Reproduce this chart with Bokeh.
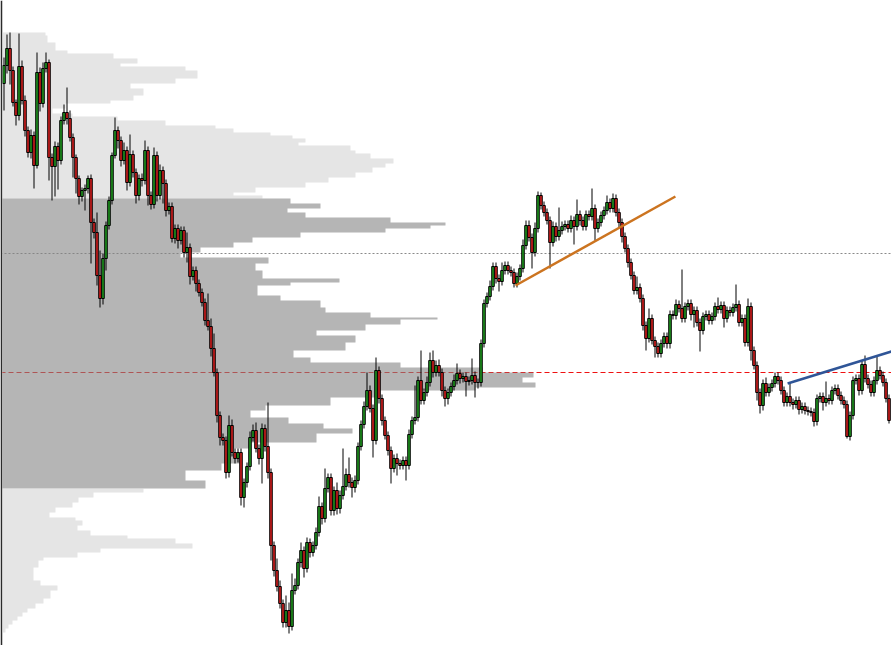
from bokeh.plotting import figure
from bokeh.models import Range1d
from bokeh.embed import file_html
from bokeh.resources import INLINE

# Price levels on a 0..645 scale (value = 645 - row)
BASE = 645

first_open_row = 83
close_row = [
    65, 48, 70, 102, 115, 66, 100, 130, 152, 135,
    165, 72, 103, 68, 62, 157, 166, 146, 160, 120,
    112, 118, 137, 157, 178, 196, 190, 188, 178, 222,
    232, 275, 298, 258, 225, 200, 155, 130, 140, 160,
    150, 182, 154, 172, 195, 178, 180, 150, 195, 204,
    155, 195, 170, 183, 210, 206, 238, 228, 240, 230,
    252, 247, 276, 270, 283, 292, 302, 320, 326, 348,
    372, 415, 437, 440, 472, 425, 452, 458, 452, 497,
    482, 466, 437, 430, 448, 458, 428, 446, 472, 545,
    570, 586, 603, 622, 610, 626, 590, 585, 562, 550,
    568, 542, 552, 545, 532, 506, 518, 488, 477, 510,
    490, 508, 495, 486, 474, 482, 487, 480, 446, 424,
    406, 390, 408, 440, 370, 398, 420, 435, 450, 468,
    458, 463, 465, 460, 465, 434, 420, 417, 380, 400,
    392, 382, 360, 372, 365, 372, 390, 398, 392, 386,
    380, 373, 378, 376, 381, 380, 375, 382, 382, 343,
    303, 296, 286, 266, 278, 281, 270, 265, 270, 272,
    283, 276, 268, 245, 225, 237, 252, 228, 195, 205,
    212, 220, 242, 226, 236, 230, 226, 224, 228, 220,
    226, 214, 220, 226, 214, 216, 208, 228, 222, 215,
    210, 202, 208, 198, 212, 222, 236, 248, 262, 275,
    290, 287, 298, 325, 338, 318, 340, 346, 353, 343,
    336, 343, 314, 315, 304, 308, 318, 306, 303, 314,
    310, 322, 330, 316, 314, 320, 316, 306, 309, 305,
    318, 310, 312, 307, 304, 322, 318, 342, 306, 350,
    365, 392, 405, 383, 392, 387, 383, 376, 380, 390,
    402, 396, 402, 404, 400, 409, 406, 410, 411, 412,
    421, 398, 396, 402, 398, 400, 390, 388, 395, 400,
    404, 436, 415, 380, 378, 390, 364, 378, 384, 392,
    380, 370, 375, 382, 398, 420,
]
wick_up = [
    8, 14, 16, 4, 3, 33, 6, 5, 4, 6,
    4, 20, 5, 6, 10, 3, 4, 5, 4, 4,
    8, 25, 8, 4, 3, 3, 3, 4, 3, 4,
    4, 20, 25, 5, 4, 4, 3, 13, 4, 4,
    8, 4, 20, 4, 4, 4, 5, 10, 4, 4,
    8, 4, 6, 4, 4, 4, 4, 4, 4, 4,
    4, 15, 4, 4, 4, 4, 4, 4, 27, 8,
    15, 4, 4, 4, 4, 10, 6, 4, 4, 4,
    4, 4, 6, 6, 8, 4, 5, 4, 44, 4,
    4, 12, 6, 4, 15, 8, 17, 7, 4, 8,
    4, 5, 4, 4, 5, 10, 4, 20, 4, 4,
    4, 8, 5, 38, 6, 17, 5, 5, 4, 4,
    5, 18, 5, 4, 13, 4, 4, 4, 4, 4,
    4, 5, 4, 4, 4, 5, 4, 32, 4, 30,
    4, 6, 8, 10, 5, 6, 4, 4, 4, 4,
    6, 10, 4, 4, 4, 4, 17, 4, 4, 4,
    4, 4, 6, 4, 4, 4, 8, 4, 4, 4,
    4, 4, 4, 6, 5, 5, 4, 6, 4, 3,
    4, 4, 4, 5, 4, 23, 5, 4, 4, 5,
    4, 15, 4, 4, 4, 4, 20, 4, 4, 4,
    4, 7, 4, 5, 4, 4, 4, 4, 4, 4,
    4, 11, 4, 4, 4, 10, 4, 4, 4, 4,
    4, 4, 4, 4, 5, 4, 39, 4, 4, 4,
    4, 4, 4, 4, 4, 4, 4, 4, 9, 4,
    4, 4, 4, 4, 20, 4, 4, 4, 8, 4,
    4, 4, 4, 4, 6, 4, 4, 4, 4, 4,
    4, 4, 14, 4, 4, 4, 4, 4, 4, 4,
    4, 4, 4, 4, 17, 4, 4, 4, 4, 4,
    4, 4, 4, 4, 4, 4, 4, 9, 4, 4,
    4, 15, 4, 4, 4, 4,
]
wick_dn = [
    27, 8, 14, 4, 10, 5, 4, 6, 5, 6,
    23, 3, 8, 4, 4, 23, 34, 30, 29, 4,
    4, 6, 4, 20, 15, 8, 5, 20, 5, 41,
    6, 10, 9, 6, 12, 4, 4, 3, 8, 6,
    4, 8, 4, 5, 8, 5, 6, 4, 10, 5,
    4, 6, 4, 20, 6, 4, 4, 5, 8, 4,
    5, 10, 8, 4, 8, 4, 4, 5, 4, 8,
    4, 7, 8, 5, 6, 5, 4, 5, 4, 8,
    10, 5, 4, 4, 4, 6, 25, 5, 6, 15,
    6, 5, 5, 5, 5, 7, 4, 4, 4, 5,
    9, 4, 5, 4, 4, 4, 6, 4, 4, 5,
    5, 6, 5, 4, 4, 5, 10, 5, 4, 4,
    4, 4, 4, 17, 4, 5, 5, 4, 5, 15,
    4, 12, 4, 4, 15, 4, 4, 4, 4, 4,
    4, 4, 4, 5, 4, 4, 6, 8, 6, 4,
    4, 4, 5, 4, 15, 4, 4, 15, 6, 4,
    4, 4, 4, 4, 5, 10, 4, 4, 4, 4,
    4, 4, 4, 4, 4, 4, 16, 4, 4, 4,
    4, 4, 26, 4, 5, 4, 4, 4, 4, 4,
    18, 4, 5, 4, 4, 4, 4, 12, 4, 4,
    4, 4, 4, 4, 4, 5, 6, 4, 5, 4,
    4, 4, 4, 5, 12, 4, 4, 11, 4, 4,
    4, 5, 5, 4, 4, 4, 4, 4, 4, 6,
    13, 4, 21, 4, 4, 4, 4, 4, 4, 4,
    9, 4, 4, 4, 4, 4, 4, 4, 4, 10,
    4, 8, 8, 5, 4, 4, 4, 4, 4, 4,
    4, 4, 4, 5, 4, 5, 4, 4, 4, 4,
    5, 4, 4, 8, 4, 4, 4, 4, 4, 4,
    4, 2, 4, 4, 4, 5, 4, 4, 4, 4,
    4, 4, 4, 4, 4, 3,
]

# Volume profile: row edges (same level scale) and volume per row
vp_edges_row = [
    32, 35, 42, 50, 53, 58, 63, 66, 70, 78, 83, 88, 95, 100, 103, 108, 113, 116,
    120, 125, 128, 132, 135, 138, 142, 145, 150, 153, 158, 163, 167, 172, 177,
    182, 187, 192, 195, 198, 203, 208, 212, 217, 222, 225, 228, 232, 237, 242,
    247, 252, 257, 263, 270, 278, 282, 285, 295, 300, 307, 312, 317, 319, 324,
    330, 335, 342, 350, 357, 362, 367, 372, 377, 382, 387, 390, 397, 405, 410,
    417, 423, 428, 433, 442, 448, 453, 463, 470, 480, 488, 492, 497, 502, 507,
    512, 517, 520, 525, 530, 535, 538, 543, 548, 552, 557, 560, 567, 580, 585,
    590, 598, 603, 608, 612, 616, 620, 624, 628, 632,
]
vp_volume = [
    45, 47, 55, 67, 113, 137, 120, 185, 197, 175,
    130, 143, 133, 110, 65, 52, 72, 117, 165, 215,
    233, 270, 292, 305, 298, 350, 355, 370, 393, 385,
    372, 355, 328, 305, 255, 233, 262,
    290, 320, 287, 305, 390, 445, 430, 385, 300, 252,
    233, 200, 180, 268, 255, 262, 339, 290, 257, 280,
    320, 325, 370, 437, 400, 365, 316, 355, 345, 293,
    310, 400, 482, 533, 522, 535, 475, 375, 330, 265,
    250, 288, 323, 352, 316, 250, 225, 240, 221, 185,
    205,
    143, 93, 78, 72, 55, 49, 75, 82, 77, 90,
    127, 175, 192, 100, 77, 43, 38, 33, 40, 57,
    50, 43, 35, 27, 22, 17, 12, 8, 5,
]
value_area_rows = [198, 488]
poc_row = 372
ref_row = 253
orange_idx = [170.5, 223.8]
orange_row = [285, 196]
blue_idx = [261.2, 295.8]
blue_row = [383, 351]

# ---- derived prices ----
n = len(close_row)
close = [BASE - v for v in close_row]
opens = [BASE - first_open_row] + close[:-1]
high = [max(o, c) + u for o, c, u in zip(opens, close, wick_up)]
low = [min(o, c) - d for o, c, d in zip(opens, close, wick_dn)]
idx = list(range(n))
up = [c >= o for o, c in zip(opens, close)]

p = figure(width=891, height=645, output_backend="svg", toolbar_location=None,
           x_range=Range1d(-0.5, 295.83), y_range=Range1d(0, BASE),
           x_axis_location=None, y_axis_location=None,
           min_border_left=2, min_border_right=0, min_border_top=0, min_border_bottom=0,
           border_fill_color="#2b2b2b", background_fill_color="white",
           outline_line_color=None)
p.extra_x_ranges = {"vol": Range1d(2, 891)}
p.xgrid.visible = False
p.ygrid.visible = False

# reference lines (under the profile)
p.line(x=[0, 891], y=[BASE - poc_row] * 2, x_range_name="vol",
       line_color="#ee1111", line_width=1, line_dash="5 3")
p.line(x=[0, 891], y=[BASE - ref_row] * 2, x_range_name="vol",
       line_color="#8a8a8a", line_width=1, line_dash="2 2")

# volume profile as stepped polygons (one per contiguous zone)
def zone_polygon(rows):
    xs, ys = [0], [BASE - vp_edges_row[rows[0]]]
    for r in rows:
        xs += [vp_volume[r], vp_volume[r]]
        ys += [BASE - vp_edges_row[r], BASE - vp_edges_row[r + 1]]
    xs.append(0)
    ys.append(BASE - vp_edges_row[rows[-1] + 1])
    return xs, ys

nrows = len(vp_volume)
in_va = [vp_edges_row[r] >= value_area_rows[0] and vp_edges_row[r + 1] <= value_area_rows[1]
         for r in range(nrows)]
zones = []
for r in range(nrows):
    if zones and zones[-1][0] == in_va[r]:
        zones[-1][1].append(r)
    else:
        zones.append((in_va[r], [r]))
pxs, pys, pcols = [], [], []
for va, rows in zones:
    xs, ys = zone_polygon(rows)
    pxs.append(xs)
    pys.append(ys)
    pcols.append("#848484" if va else "#d4d4d4")
p.patches(xs=pxs, ys=pys, x_range_name="vol", fill_color=pcols, fill_alpha=0.6,
          line_color=None)

# candles
p.segment(x0=idx, x1=idx, y0=high, y1=low, line_color="black", line_width=1)
body_top = [max(o, c) for o, c in zip(opens, close)]
body_bot = [min(o, c) for o, c in zip(opens, close)]
fills = ["#1f9a1f" if u else "#d91e1e" for u in up]
p.vbar(x=idx, width=0.85, top=body_top, bottom=body_bot,
       fill_color=fills, line_color="black", line_width=1)

# trend lines
p.line(x=orange_idx, y=[BASE - v for v in orange_row], line_color="#cc7420", line_width=2.5)
p.line(x=blue_idx, y=[BASE - v for v in blue_row], line_color="#2f5597", line_width=2.5)

open("out.html", "w").write(file_html(p, INLINE))
